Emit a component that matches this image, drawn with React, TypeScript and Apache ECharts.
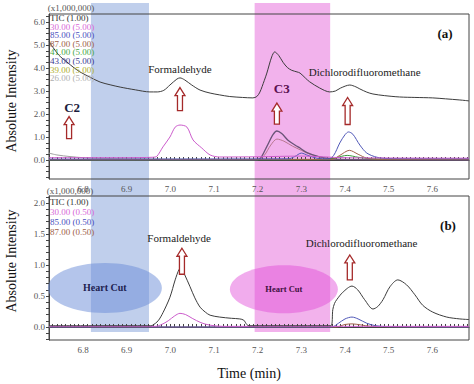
import React, { useEffect, useRef } from 'react';
import * as echarts from 'echarts';

// ---------- axes ----------
const X_MIN = 6.722;
const X_MAX = 7.684;
const xLabelValues = [6.8, 6.9, 7.0, 7.1, 7.2, 7.3, 7.4, 7.5, 7.6];
const yLabelsA = [0, 1, 2, 3, 4, 5, 6];
const yLabelsB = [0, 0.5, 1.0, 1.5, 2.0];
const Y_A = [-0.826, 6.348];
const Y_B = [-0.21, 2.113];

const steps = (a: number, b: number, s: number) => {
  const out: number[] = [];
  for (let v = a; v <= b + 1e-9; v += s) out.push(Math.round(v * 1000) / 1000);
  return out;
};
const xTickValues = steps(6.73, 7.68, 0.01);
const yTicksA = steps(-0.75, 6.25, 0.25);
const yTicksB = steps(-0.2, 2.1, 0.1);

// ---------- legends ----------
const legendA = ['TIC (1.00)', '30.00 (5.00)', '85.00 (5.00)', '87.00 (5.00)', '41.00 (5.00)', '43.00 (5.00)', '39.00 (5.00)', '26.00 (5.00)'];
const legendAColors = ['#333333', '#d868d8', '#4a50c0', '#a06048', '#48a848', '#3a3a90', '#b0b030', '#b0b0b0'];
const legendB = ['TIC (1.00)', '30.00 (0.50)', '85.00 (0.50)', '87.00 (0.50)'];
const legendBColors = ['#333333', '#d868d8', '#4a50c0', '#a06048'];

// ---------- panel (a) data, ×1,000,000 ----------
const ticA: [number, number][] = [
  [6.722, 5.15], [6.731, 4.9], [6.745, 4.55], [6.763, 4.26], [6.78, 4.0], [6.793, 3.83], [6.816, 3.6], [6.839, 3.39],
  [6.862, 3.27], [6.885, 3.17], [6.92, 3.05], [6.953, 2.96], [6.97, 2.96], [6.985, 3.03], [6.999, 3.26], [7.015, 3.52],
  [7.022, 3.57], [7.033, 3.48], [7.049, 3.26], [7.068, 3.04], [7.091, 2.91], [7.113, 2.83], [7.136, 2.76], [7.165, 2.72],
  [7.189, 2.7], [7.198, 2.76], [7.205, 2.95], [7.215, 3.45], [7.221, 3.78], [7.232, 4.48], [7.239, 4.7], [7.248, 4.55],
  [7.258, 4.25], [7.268, 4.02], [7.278, 3.9], [7.29, 3.83], [7.297, 3.78], [7.31, 3.55], [7.319, 3.4], [7.342, 3.13],
  [7.365, 2.96], [7.378, 3.0], [7.39, 3.13], [7.411, 3.26], [7.425, 3.18], [7.434, 3.09], [7.45, 2.95], [7.464, 2.87],
  [7.49, 2.8], [7.525, 2.74], [7.56, 2.72], [7.601, 2.7], [7.63, 2.66], [7.663, 2.61], [7.684, 2.57],
];
const mz30A: [number, number][] = [
  [6.722, 0.1], [6.9, 0.1], [6.96, 0.12], [6.969, 0.16], [6.983, 0.57], [6.999, 1.0], [7.011, 1.43], [7.022, 1.52],
  [7.038, 1.43], [7.052, 0.87], [7.072, 0.52], [7.091, 0.22], [7.113, 0.13], [7.2, 0.14], [7.3, 0.17], [7.4, 0.1], [7.684, 0.08],
];
const mz85A: [number, number][] = [
  [6.722, 0.04], [7.27, 0.05], [7.285, 0.15], [7.3, 0.3], [7.315, 0.2], [7.335, 0.08], [7.362, 0.05], [7.374, 0.2],
  [7.388, 0.74], [7.4, 1.1], [7.408, 1.22], [7.418, 1.12], [7.434, 0.65], [7.45, 0.3], [7.473, 0.12], [7.5, 0.06], [7.684, 0.05],
];
const mz87A: [number, number][] = [
  [6.722, 0.02], [7.37, 0.03], [7.388, 0.2], [7.41, 0.42], [7.43, 0.25], [7.45, 0.08], [7.48, 0.03], [7.684, 0.02],
];
const mz41A: [number, number][] = [
  [6.722, 0.01], [7.36, 0.02], [7.38, 0.1], [7.405, 0.2], [7.43, 0.12], [7.46, 0.05], [7.5, 0.04], [7.684, 0.04],
];
const mz43A: [number, number][] = [
  [6.722, 0.0], [7.19, 0.0], [7.205, 0.05], [7.22, 0.55], [7.235, 1.1], [7.244, 1.26], [7.255, 1.15], [7.27, 0.85],
  [7.29, 0.6], [7.297, 0.52], [7.313, 0.32], [7.34, 0.15], [7.365, 0.06], [7.4, 0.02], [7.684, 0.0],
];
const mz39A: [number, number][] = [
  [6.722, 0.02], [7.2, 0.02], [7.215, 0.2], [7.23, 0.65], [7.244, 0.91], [7.26, 0.82], [7.28, 0.6], [7.3, 0.42],
  [7.32, 0.25], [7.35, 0.1], [7.38, 0.04], [7.684, 0.02],
];
const mz26A: [number, number][] = [
  [6.722, 0.3], [6.74, 0.22], [6.77, 0.15], [6.8, 0.1], [6.82, 0.08], [6.9, 0.05], [7.0, 0.03], [7.684, 0.02],
];

// ---------- panel (b) data ----------
const ticB: [number, number][] = [
  [6.722, 0.02], [6.955, 0.02], [6.96, 0.03], [6.972, 0.1], [6.983, 0.23], [6.999, 0.48], [7.011, 0.76], [7.02, 0.93],
  [7.025, 0.95], [7.033, 0.84], [7.045, 0.65], [7.056, 0.47], [7.068, 0.32], [7.08, 0.24], [7.091, 0.19], [7.113, 0.16],
  [7.14, 0.14], [7.159, 0.13], [7.168, 0.11], [7.175, 0.04], [7.18, 0.02], [7.368, 0.02], [7.372, 0.28], [7.376, 0.38],
  [7.381, 0.44], [7.395, 0.56], [7.416, 0.66], [7.429, 0.6], [7.445, 0.44], [7.464, 0.29], [7.475, 0.33], [7.487, 0.44],
  [7.503, 0.65], [7.521, 0.76], [7.541, 0.68], [7.56, 0.52], [7.578, 0.35], [7.601, 0.24], [7.633, 0.16], [7.663, 0.13], [7.684, 0.12],
];
const mz30B: [number, number][] = [
  [6.722, 0.01], [6.965, 0.01], [6.98, 0.04], [6.995, 0.1], [7.01, 0.18], [7.022, 0.22], [7.035, 0.2], [7.05, 0.14],
  [7.07, 0.07], [7.09, 0.03], [7.12, 0.01], [7.684, 0.01],
];
const mz85B: [number, number][] = [
  [6.722, 0.0], [7.37, 0.0], [7.385, 0.06], [7.4, 0.13], [7.416, 0.16], [7.43, 0.13], [7.45, 0.06], [7.47, 0.02], [7.5, 0.005], [7.684, 0.0],
];
const mz87B: [number, number][] = [
  [6.722, 0.0], [7.38, 0.0], [7.4, 0.04], [7.416, 0.05], [7.435, 0.035], [7.46, 0.01], [7.684, 0.0],
];

// ---------- annotations (data coordinates) ----------
const heartCutBands = [
  { from: 6.818, to: 6.951, color: '#c0cfec' },
  { from: 7.193, to: 7.366, color: '#f2b2ec' },
];
const notes = [
  { panel: 0, t: 6.775, v: 2.3, text: 'C2', bold: true, color: '#1c1c3c' },
  { panel: 0, t: 7.022, v: 3.96, text: 'Formaldehyde', bold: false, color: '#222222' },
  { panel: 0, t: 7.255, v: 3.13, text: 'C3', bold: true, color: '#5a1050' },
  { panel: 0, t: 7.445, v: 3.83, text: 'Dichlorodifluoromethane', bold: false, color: '#222222' },
  { panel: 1, t: 7.02, v: 1.435, text: 'Formaldehyde', bold: false, color: '#222222' },
  { panel: 1, t: 7.438, v: 1.355, text: 'Dichlorodifluoromethane', bold: false, color: '#222222' },
];
const arrows = [
  { panel: 0, t: 6.768, v: 1.41, h: 22 },
  { panel: 0, t: 7.022, v: 2.65, h: 23 },
  { panel: 0, t: 7.244, v: 2.02, h: 21 },
  { panel: 0, t: 7.406, v: 2.13, h: 27 },
  { panel: 1, t: 7.0265, v: 1.06, h: 26 },
  { panel: 1, t: 7.411, v: 0.96, h: 25 },
];
const heartCutEllipses = [
  { t: 6.85, v: 0.63, rx: 57, ry: 25, fill: 'rgba(105,140,215,0.5)', textColor: '#1e1e50', fontSize: 10 },
  { t: 7.26, v: 0.61, rx: 54, ry: 24, fill: 'rgba(225,70,215,0.45)', textColor: '#401040', fontSize: 8.5 },
];

const SERIF = 'Liberation Serif, serif';

function xAxisCfg(gridIndex: number) {
  return {
    type: 'value',
    gridIndex,
    min: X_MIN,
    max: X_MAX,
    axisLine: { show: true, lineStyle: { color: '#444', width: 1 } },
    axisTick: { show: true, inside: true, length: 3, customValues: xTickValues, lineStyle: { color: '#444' } },
    axisLabel: {
      customValues: xLabelValues,
      formatter: (v: number) => v.toFixed(1),
      fontFamily: SERIF,
      fontSize: 9,
      color: '#555',
      margin: 5,
    },
    splitLine: { show: false },
  };
}
function yAxisCfg(gridIndex: number, range: number[], labels: number[], ticks: number[]) {
  return {
    type: 'value',
    gridIndex,
    min: range[0],
    max: range[1],
    axisLine: { show: true, lineStyle: { color: '#444', width: 1 } },
    axisTick: { show: true, inside: false, length: 3, customValues: ticks, lineStyle: { color: '#444' } },
    axisLabel: {
      customValues: labels,
      formatter: (v: number) => v.toFixed(1),
      fontFamily: SERIF,
      fontSize: 9,
      color: '#555',
      margin: 4,
    },
    splitLine: { show: false },
  };
}
function line(name: string, data: [number, number][], color: string, idx: number, width = 1) {
  return {
    name,
    type: 'line',
    xAxisIndex: idx,
    yAxisIndex: idx,
    data,
    symbol: 'none',
    smooth: 0.3,
    lineStyle: { color, width },
    itemStyle: { color },
    z: 2,
  };
}

export default function App() {
  const ref = useRef<HTMLDivElement>(null);
  useEffect(() => {
    const chart = echarts.init(ref.current!, null, { renderer: 'svg' });
    chart.setOption({
      animation: false,
      textStyle: { fontFamily: SERIF },
      grid: [
        { left: 49, top: 14, width: 420, height: 165, show: true, borderColor: '#444', borderWidth: 1 },
        { left: 49, top: 196, width: 420, height: 144, show: true, borderColor: '#444', borderWidth: 1 },
      ],
      xAxis: [xAxisCfg(0), xAxisCfg(1)],
      yAxis: [yAxisCfg(0, Y_A, yLabelsA, yTicksA), yAxisCfg(1, Y_B, yLabelsB, yTicksB)],
      series: [
        line('26.00', mz26A, '#a0a0a0', 0),
        line('39.00', mz39A, '#b87890', 0),
        line('43.00', mz43A, '#6a5478', 0, 1.3),
        line('41.00', mz41A, '#3c9a3c', 0),
        line('87.00', mz87A, '#a0604a', 0),
        line('85.00', mz85A, '#5058b8', 0),
        line('30.00', mz30A, '#cc5ccc', 0),
        line('TIC', ticA, '#3c3c3c', 0),
        line('87.00 b', mz87B, '#a0604a', 1),
        line('85.00 b', mz85B, '#5058b8', 1),
        line('30.00 b', mz30B, '#cc5ccc', 1),
        line('TIC b', ticB, '#3c3c3c', 1),
      ],
    });

    const px = (t: number) => chart.convertToPixel({ xAxisIndex: 0 }, t) as number;
    const py = (panel: number, v: number) => chart.convertToPixel({ yAxisIndex: panel }, v) as number;

    const elements: any[] = [];
    const bandTop = py(0, 6.83);
    const bandBottom = py(1, -0.08);
    heartCutBands.forEach((b) => {
      const x0 = px(b.from);
      const x1 = px(b.to);
      elements.push({
        type: 'rect', z: -10, silent: true,
        shape: { x: x0, y: bandTop, width: x1 - x0, height: bandBottom - bandTop },
        style: { fill: b.color },
      });
    });
    heartCutEllipses.forEach((e) => {
      const cx = px(e.t);
      const cy = py(1, e.v);
      elements.push({ type: 'ellipse', z: 1, shape: { cx, cy, rx: e.rx, ry: e.ry }, style: { fill: e.fill } });
      elements.push({
        type: 'text', z: 20, x: cx, y: cy,
        style: {
          text: 'Heart Cut', font: `bold ${e.fontSize}px ${SERIF}`, fill: e.textColor,
          align: 'center', verticalAlign: 'middle', textAlign: 'center', textVerticalAlign: 'middle',
        },
      });
    });
    arrows.forEach((a) => {
      const cx = px(a.t);
      const cy = py(a.panel, a.v);
      const top = cy - a.h / 2;
      const bot = cy + a.h / 2;
      const hw = 5, sw = 2.5, hh = 8;
      elements.push({
        type: 'polygon', z: 20,
        shape: {
          points: [
            [cx, top], [cx + hw, top + hh], [cx + sw, top + hh], [cx + sw, bot],
            [cx - sw, bot], [cx - sw, top + hh], [cx - hw, top + hh],
          ],
        },
        style: { fill: '#ffffff', stroke: '#a52a2a', lineWidth: 1.3 },
      });
    });
    notes.forEach((n) => {
      elements.push({
        type: 'text', z: 20, x: px(n.t), y: py(n.panel, n.v),
        style: {
          text: n.text,
          font: n.bold ? `bold 13px ${SERIF}` : `11px ${SERIF}`,
          fill: n.color,
          align: 'center', verticalAlign: 'middle', textAlign: 'center', textVerticalAlign: 'middle',
        },
      });
    });
    // legends
    const addLegend = (items: string[], colors: string[], y0: number, dy: number) => {
      items.forEach((txt, i) => {
        elements.push({
          type: 'text', z: 20, x: 50, y: y0 + i * dy,
          style: {
            text: txt, font: `9px ${SERIF}`, fill: colors[i],
            align: 'left', verticalAlign: 'middle', textAlign: 'left', textVerticalAlign: 'middle',
          },
        });
      });
    };
    addLegend(legendA, legendAColors, 18, 8.6);
    addLegend(legendB, legendBColors, 202, 10);
    const plain = (text: string, x: number, y: number, font: string, fill: string, rotation = 0) => ({
      type: 'text', z: 20, x, y, rotation,
      style: {
        text, font, fill,
        align: 'center', verticalAlign: 'middle', textAlign: 'center', textVerticalAlign: 'middle',
      },
    });
    elements.push(plain('(x1,000,000)', 71, 8, `9px ${SERIF}`, '#555'));
    elements.push(plain('(x1,000,000)', 70, 191, `9px ${SERIF}`, '#555'));
    elements.push(plain('(a)', 445, 33, `bold 13px ${SERIF}`, '#111'));
    elements.push(plain('(b)', 448, 225, `bold 13px ${SERIF}`, '#111'));
    elements.push(plain('Absolute Intensity', 11, 101, `14px ${SERIF}`, '#111', Math.PI / 2));
    elements.push(plain('Absolute Intensity', 11, 261, `14px ${SERIF}`, '#111', Math.PI / 2));
    elements.push(plain('Time (min)', 249, 373, `14px ${SERIF}`, '#111'));

    chart.setOption({ graphic: { elements } });
    return () => chart.dispose();
  }, []);
  return <div ref={ref} style={{ position: 'fixed', left: 0, top: 0, width: 474, height: 384, background: '#fff' }} />;
}
